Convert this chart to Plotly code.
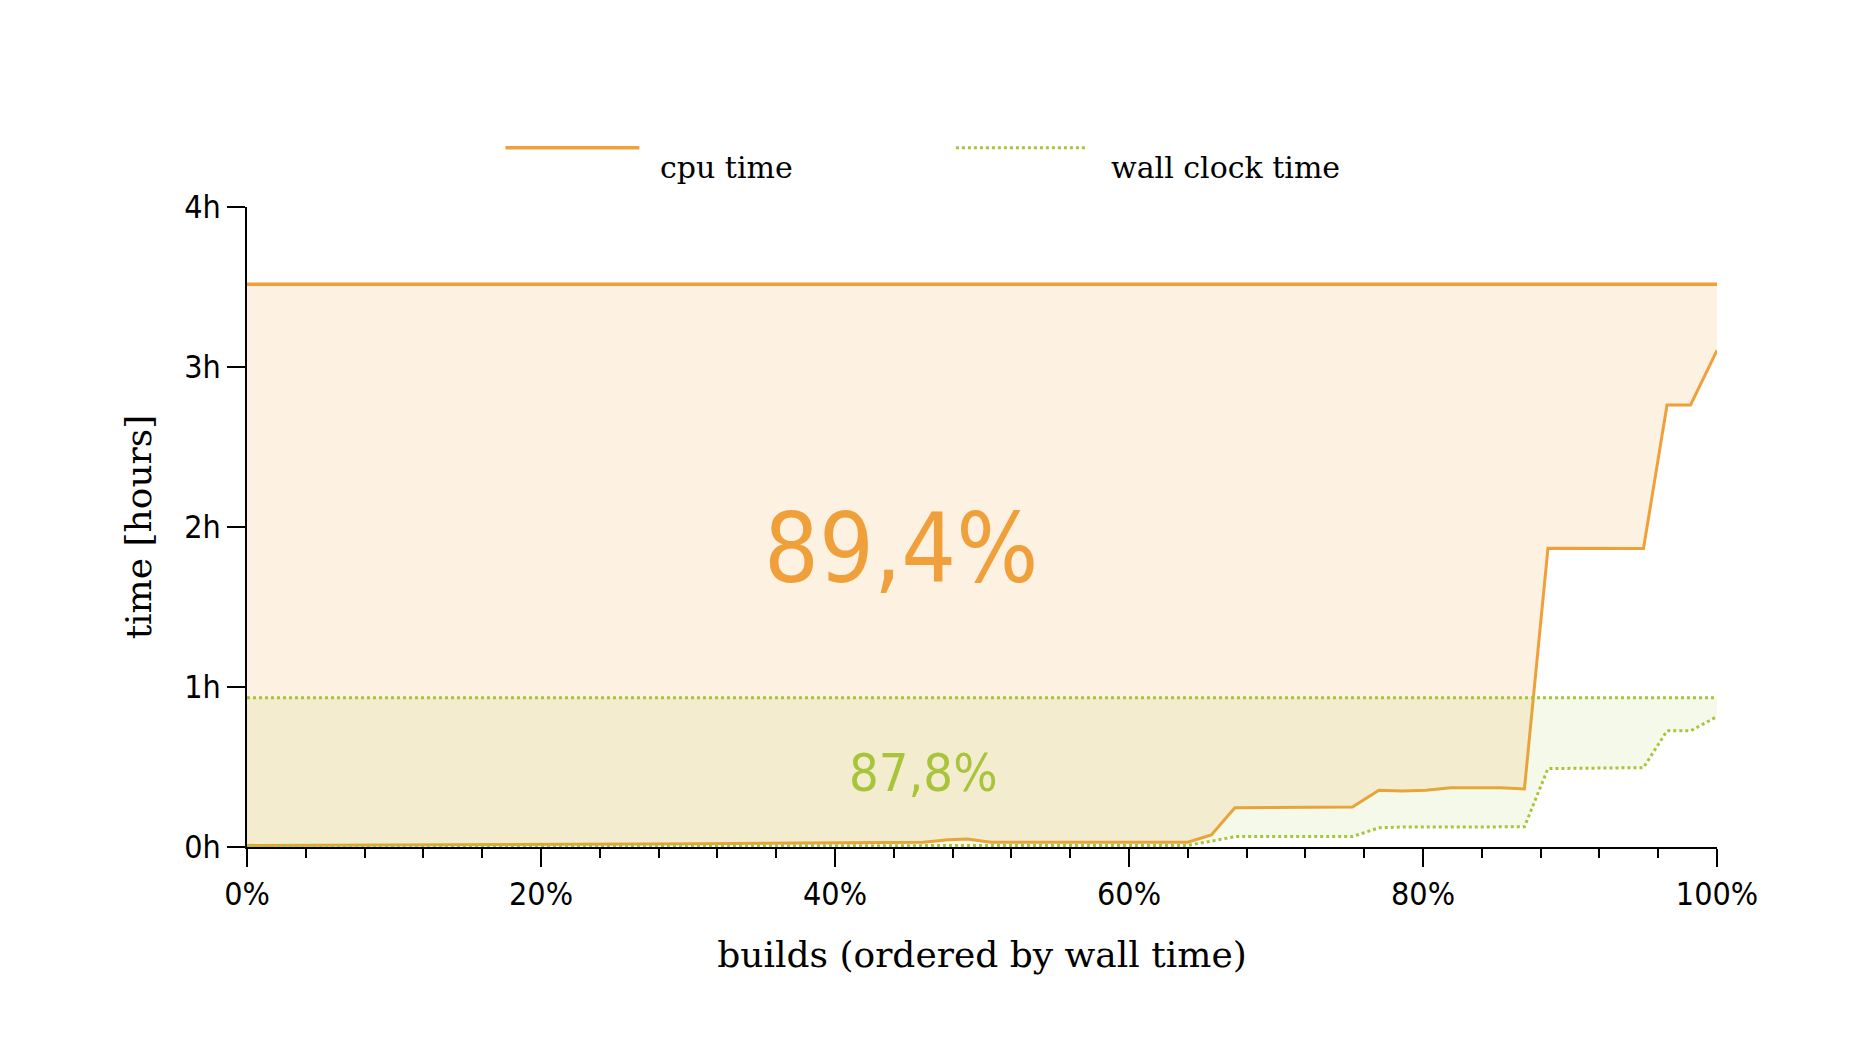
import plotly.graph_objects as go

cpu_x = [0, 15, 23, 31, 46, 47.7, 49, 50.6, 64, 65.6, 67.2, 75.2, 77, 78.6, 80.2, 81.9, 85.3, 86.9, 88.5, 91.8, 93.4, 95, 96.6, 98.2, 100]
cpu_y = [0.01, 0.015, 0.02, 0.02, 0.03, 0.045, 0.05, 0.03, 0.03, 0.075, 0.245, 0.25, 0.355, 0.35, 0.355, 0.37, 0.37, 0.363, 1.867, 1.867, 1.863, 1.865, 2.763, 2.763, 3.104]
wall_x = [0, 20, 40, 64, 66.4, 67.2, 75.2, 77, 78.6, 86.9, 88.5, 95, 96.6, 98.2, 100]
wall_y = [0.005, 0.006, 0.008, 0.01, 0.05, 0.065, 0.065, 0.12, 0.125, 0.126, 0.49, 0.496, 0.726, 0.726, 0.815]
cpu_max = 3.517
wall_max = 0.933
cpu_label = "3h31min"
wall_label = "56min"
cpu_pct = "89,4%"
wall_pct = "87,8%"
y_ticks = [0, 1, 2, 3, 4]
y_ticktext = ["0h", "1h", "2h", "3h", "4h"]
x_ticks = [0, 20, 40, 60, 80, 100]
x_ticktext = ["0%", "20%", "40%", "60%", "80%", "100%"]

ORANGE = "#f0a03a"
GREEN = "#a8c43a"
SANS = "DejaVu Sans Condensed, DejaVu Sans"
SERIF = "DejaVu Serif"

fig = go.Figure()
fig.add_trace(go.Scatter(x=cpu_x, y=[cpu_max]*len(cpu_x), mode="lines",
                         line=dict(color=ORANGE, width=3.5)))
fig.add_trace(go.Scatter(x=cpu_x, y=cpu_y, mode="lines", fill="tonexty",
                         fillcolor="rgba(240,160,58,0.15)", line=dict(color=ORANGE, width=3)))
fig.add_trace(go.Scatter(x=wall_x, y=[wall_max]*len(wall_x), mode="lines",
                         line=dict(color=GREEN, width=3, dash="dot")))
fig.add_trace(go.Scatter(x=wall_x, y=wall_y, mode="lines", fill="tonexty",
                         fillcolor="rgba(166,197,59,0.11)", line=dict(color=GREEN, width=3, dash="dot")))

ann = [
    dict(x=44.5, y=1.86, text=cpu_pct, font=dict(family=SANS, size=96, color=ORANGE)),
    dict(x=46, y=0.46, text=wall_pct, font=dict(family=SANS, size=52, color=GREEN)),
    dict(x=100.5, y=cpu_max, text=cpu_label, xanchor="left", font=dict(family=SERIF, size=30, color=ORANGE)),
    dict(x=100.2, y=wall_max, text=wall_label, xanchor="left", font=dict(family=SERIF, size=30, color=GREEN)),
]
for a in ann:
    a.update(xref="x", yref="y", showarrow=False)
    a.setdefault("xanchor", "center")
fig.update_layout(annotations=ann)

# legend drawn manually
fig.add_shape(type="line", xref="paper", yref="paper", x0=(420-202)/1240, x1=(533-202)/1240,
              y0=(708-118)/540, y1=(708-118)/540, line=dict(color=ORANGE, width=3.5))
fig.add_shape(type="line", xref="paper", yref="paper", x0=(800-202)/1240, x1=(910-202)/1240,
              y0=(708-118)/540, y1=(708-118)/540, line=dict(color=GREEN, width=3, dash="dot"))
fig.add_annotation(xref="paper", yref="paper", x=(549-202)/1240, y=(708-118)/540, text="cpu time",
                   xanchor="left", showarrow=False, font=dict(family=SERIF, size=30, color="black"))
fig.add_annotation(xref="paper", yref="paper", x=(929-202)/1240, y=(708-118)/540, text="wall clock time",
                   xanchor="left", showarrow=False, font=dict(family=SERIF, size=30, color="black"))

fig.update_layout(
    width=1858, height=1064, showlegend=False,
    paper_bgcolor="white", plot_bgcolor="white",
    margin=dict(l=239, r=149, t=199, b=225),
    xaxis=dict(range=[0, 100], tickvals=x_ticks, ticktext=x_ticktext, ticks="outside", ticklen=18,
               tickwidth=1.5, tickcolor="black", showline=True, linecolor="black", linewidth=1.5,
               showgrid=False, zeroline=False, tickfont=dict(family=SANS, size=32, color="black"),
               minor=dict(dtick=4, tick0=0, ticks="outside", ticklen=9, tickcolor="black", tickwidth=1.5),
               title=dict(text="builds (ordered by wall time)", font=dict(family=SERIF, size=36, color="black"), standoff=30)),
    yaxis=dict(range=[0, 4], tickvals=y_ticks, ticktext=y_ticktext, ticks="outside", ticklen=18,
               tickwidth=1.5, tickcolor="black", showline=True, linecolor="black", linewidth=1.5,
               showgrid=False, zeroline=False, tickfont=dict(family=SANS, size=32, color="black"),
               title=dict(text="time [hours]", font=dict(family=SERIF, size=36, color="black"), standoff=22)),
)
fig.write_html("out.html")
